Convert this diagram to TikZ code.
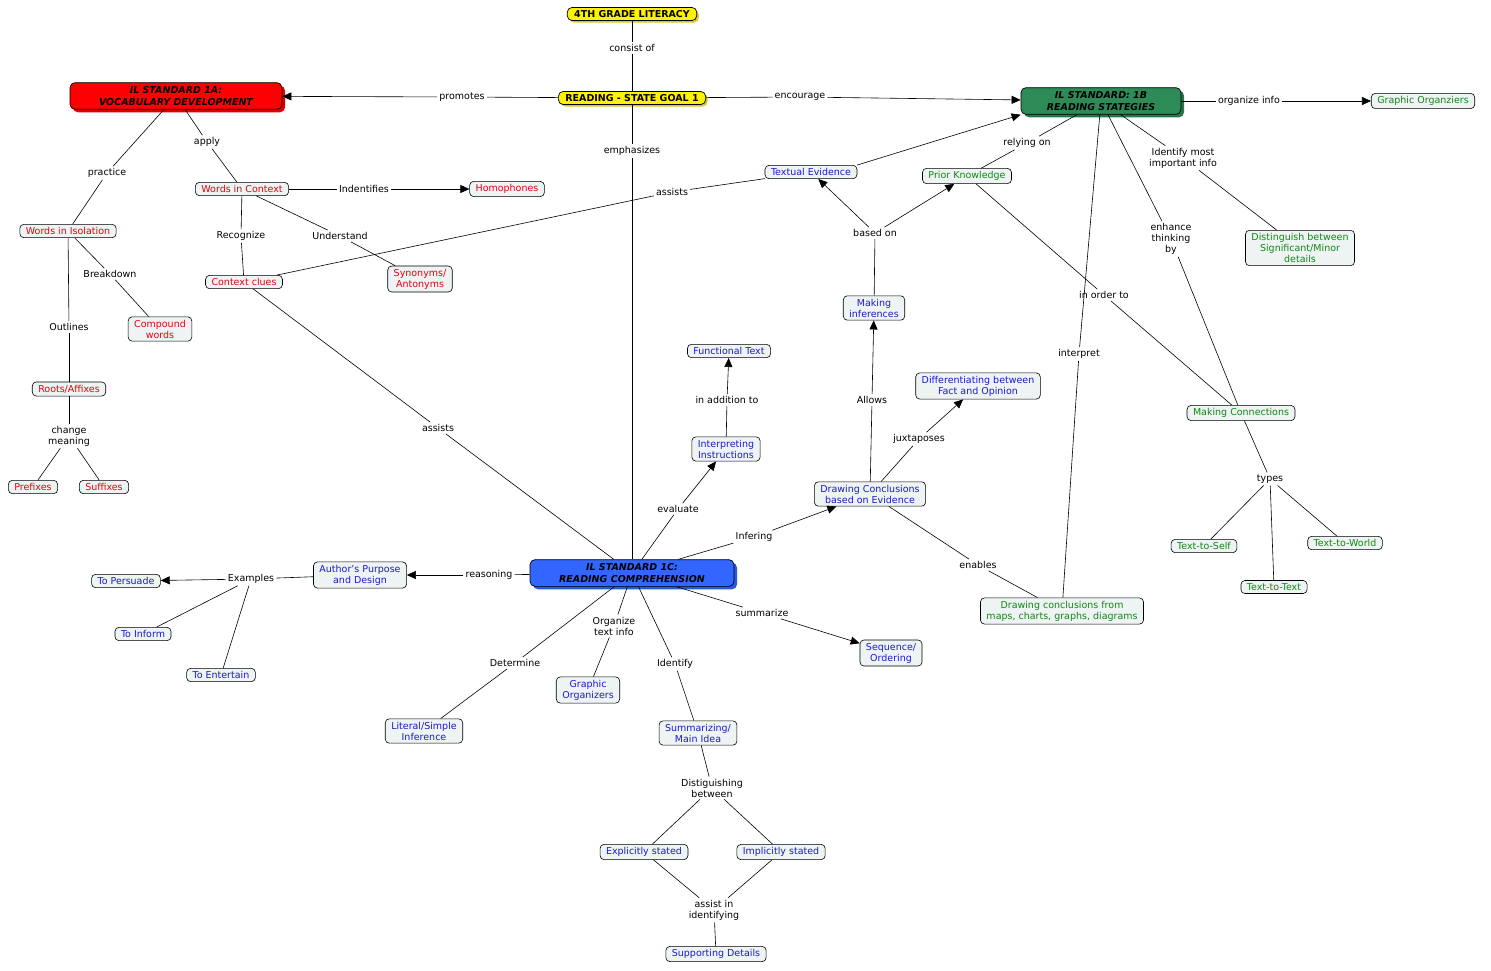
\documentclass[tikz,border=0pt]{standalone}
\usepackage{fontspec}
\setmainfont{DejaVu Sans}
\usetikzlibrary{arrows.meta,shadows}
\definecolor{nfill}{HTML}{EEF3F4}
\definecolor{tred}{HTML}{E8000B}
\definecolor{tblue}{HTML}{1A1ACC}
\definecolor{tgreen}{HTML}{118811}
\definecolor{sgreen}{HTML}{2E8B57}
\definecolor{sblue}{HTML}{3366FF}
\tikzset{
 cbox/.style={draw=black,line width=0.6pt,rounded corners=4pt,fill=nfill,align=center,inner xsep=6pt,inner ysep=3pt,font=\fontsize{9.5}{11}\selectfont},
 rbox/.style={cbox,text=tred},
 bbox/.style={cbox,text=tblue},
 gbox/.style={cbox,text=tgreen},
 big/.style={draw=black,line width=0.7pt,rounded corners=5pt,align=center,inner xsep=7pt,inner ysep=4pt,font=\fontsize{9.5}{11.5}\selectfont\bfseries\itshape,drop shadow={shadow xshift=3pt,shadow yshift=-3pt,opacity=1,fill=#1!85!black},fill=#1},
 ybox/.style={draw=black,line width=0.7pt,rounded corners=5pt,fill=yellow,inner xsep=7pt,inner ysep=3pt,font=\fontsize{9.5}{11}\selectfont\bfseries,drop shadow={shadow xshift=2pt,shadow yshift=-2pt,opacity=1,fill=yellow!80!black}},
 lab/.style={align=center,inner sep=2pt,font=\fontsize{9.5}{11}\selectfont},
 ln/.style={line width=0.6pt},
 ar/.style={line width=0.6pt,-{Triangle[length=9pt,width=8pt]}}
}
\newcommand{\cnx}[3]{\draw[ln] (#1) -- (#2); \draw[ln] (#2) -- (#3);}
\newcommand{\cax}[3]{\draw[ln] (#1) -- (#2); \draw[ar] (#2) -- (#3);}
\begin{document}
\begin{tikzpicture}[x=1pt,y=-1pt]
\useasboundingbox (0,0) rectangle (1491,970);
% main
\node[ybox] (lit) at (632,14) {4TH GRADE LITERACY};
\node[ybox] (goal) at (632,98) {READING - STATE GOAL 1};
\node[big=red,minimum width=212pt] (s1a) at (176,96) {IL STANDARD 1A:\\VOCABULARY DEVELOPMENT};
\node[big=sgreen,minimum width=160pt] (s1b) at (1101,101) {IL STANDARD: 1B\\READING STATEGIES};
\node[big=sblue,minimum width=204pt] (s1c) at (632,573) {IL STANDARD 1C:\\READING COMPREHENSION};
% green
\node[gbox] (go1) at (1423,101) {Graphic Organziers};
\node[gbox] (prior) at (967,176) {Prior Knowledge};
\node[gbox] (dist) at (1300,248) {Distinguish between\\Significant/Minor\\details};
\node[gbox] (mc) at (1241,413) {Making Connections};
\node[gbox] (tself) at (1204,546) {Text-to-Self};
\node[gbox] (tworld) at (1345,543) {Text-to-World};
\node[gbox] (ttext) at (1274,587) {Text-to-Text};
\node[gbox] (maps) at (1062,611) {Drawing conclusions from\\maps, charts, graphs, diagrams};
% blue
\node[bbox] (tev) at (811,172) {Textual Evidence};
\node[bbox] (mi) at (874,308) {Making\\inferences};
\node[bbox] (ft) at (729,351) {Functional Text};
\node[bbox] (diff) at (978,386) {Differentiating between\\Fact and Opinion};
\node[bbox] (ii) at (726,449) {Interpreting\\Instructions};
\node[bbox] (dc) at (870,494) {Drawing Conclusions\\based on Evidence};
\node[bbox] (seq) at (891,653) {Sequence/\\Ordering};
\node[bbox] (ap) at (360,575) {Author's Purpose\\and Design};
\node[bbox] (pers) at (126,581) {To Persuade};
\node[bbox] (inf) at (143,634) {To Inform};
\node[bbox] (ent) at (221,675) {To Entertain};
\node[bbox] (lit2) at (424,731) {Literal/Simple\\Inference};
\node[bbox] (go2) at (588,690) {Graphic\\Organizers};
\node[bbox] (sum) at (698,733) {Summarizing/\\Main Idea};
\node[bbox] (expl) at (644,852) {Explicitly stated};
\node[bbox] (impl) at (781,852) {Implicitly stated};
\node[bbox] (sup) at (716,954) {Supporting Details};
% red
\node[rbox] (wic) at (242,189) {Words in Context};
\node[rbox] (hom) at (507,189) {Homophones};
\node[rbox] (wii) at (68,231) {Words in Isolation};
\node[rbox] (cc) at (244,282) {Context clues};
\node[rbox] (syn) at (420,279) {Synonyms/\\Antonyms};
\node[rbox] (cw) at (160,329) {Compound\\words};
\node[rbox] (ra) at (69,389) {Roots/Affixes};
\node[rbox] (pre) at (33,487) {Prefixes};
\node[rbox] (suf) at (104,487) {Suffixes};
% labels
\node[lab] (l1) at (632,48) {consist of};
\node[lab] (l2) at (462,97) {promotes};
\node[lab] (l3) at (800,97) {encourage};
\node[lab] (l4) at (632,151) {emphasizes};
\node[lab] (l5) at (1249,101) {organize info};
\node[lab] (l6) at (1027,143) {relying on};
\node[lab] (l7) at (1183,158) {Identify most\\important info};
\node[lab] (l8) at (1171,239) {enhance\\thinking\\by};
\node[lab] (l9) at (1079,354) {interpret};
\node[lab] (l10) at (1104,295) {in order to};
\node[lab] (l11) at (672,192) {assists};
\node[lab] (l12) at (875,233) {based on};
\node[lab] (l13) at (872,400) {Allows};
\node[lab] (l14) at (919,439) {juxtaposes};
\node[lab] (l15) at (754,537) {Infering};
\node[lab] (l16) at (978,565) {enables};
\node[lab] (l17) at (678,509) {evaluate};
\node[lab] (l18) at (727,400) {in addition to};
\node[lab] (l19) at (762,613) {summarize};
\node[lab] (l20) at (489,575) {reasoning};
\node[lab] (l21) at (251,579) {Examples};
\node[lab] (l22) at (614,626) {Organize\\text info};
\node[lab] (l23) at (515,663) {Determine};
\node[lab] (l24) at (675,664) {Identify};
\node[lab] (l25) at (712,788) {Distiguishing\\between};
\node[lab] (l26) at (714,910) {assist in\\identifying};
\node[lab] (l27) at (1270,479) {types};
\node[lab] (l28) at (438,428) {assists};
\node[lab] (l29) at (107,173) {practice};
\node[lab] (l30) at (207,142) {apply};
\node[lab] (l31) at (364,189) {Indentifies};
\node[lab] (l32) at (241,236) {Recognize};
\node[lab] (l33) at (340,236) {Understand};
\node[lab] (l34) at (110,274) {Breakdown};
\node[lab] (l35) at (69,327) {Outlines};
\node[lab] (l36) at (69,436) {change\\meaning};
% connectors
\cnx{lit}{l1}{goal}
\cax{goal}{l2}{s1a}
\cax{goal}{l3}{s1b}
\cnx{goal}{l4}{s1c}
\cax{s1b}{l5}{go1}
\cnx{s1b}{l6}{prior}
\cnx{s1b}{l7}{dist}
\cnx{s1b}{l8}{mc}
\cnx{s1b}{l9}{maps}
\cnx{prior}{l10}{mc}
\draw[ar] (tev.north east) -- (s1b.south west);
\cnx{cc}{l11}{tev}
\cax{mi}{l12}{tev}
\draw[ar] (l12) -- (prior);
\cax{dc}{l13}{mi}
\cax{dc}{l14}{diff}
\cax{s1c}{l15}{dc}
\cnx{dc}{l16}{maps}
\cax{s1c}{l17}{ii}
\cax{ii}{l18}{ft}
\cax{s1c}{l19}{seq}
\cax{s1c}{l20}{ap}
\cax{ap}{l21}{pers}
\draw[ln] (l21) -- (inf);
\draw[ln] (l21) -- (ent);
\cnx{s1c}{l22}{go2}
\cnx{s1c}{l23}{lit2}
\cnx{s1c}{l24}{sum}
\cnx{sum}{l25}{expl}
\draw[ln] (l25) -- (impl);
\cnx{expl}{l26}{sup}
\draw[ln] (impl) -- (l26);
\cnx{mc}{l27}{tself}
\draw[ln] (l27) -- (tworld);
\draw[ln] (l27) -- (ttext);
\cnx{cc}{l28}{s1c}
\cnx{s1a}{l29}{wii}
\cnx{s1a}{l30}{wic}
\cax{wic}{l31}{hom}
\cnx{wic}{l32}{cc}
\cnx{wic}{l33}{syn}
\cnx{wii}{l34}{cw}
\cnx{wii}{l35}{ra}
\cnx{ra}{l36}{pre}
\draw[ln] (l36) -- (suf);
\end{tikzpicture}
\end{document}
